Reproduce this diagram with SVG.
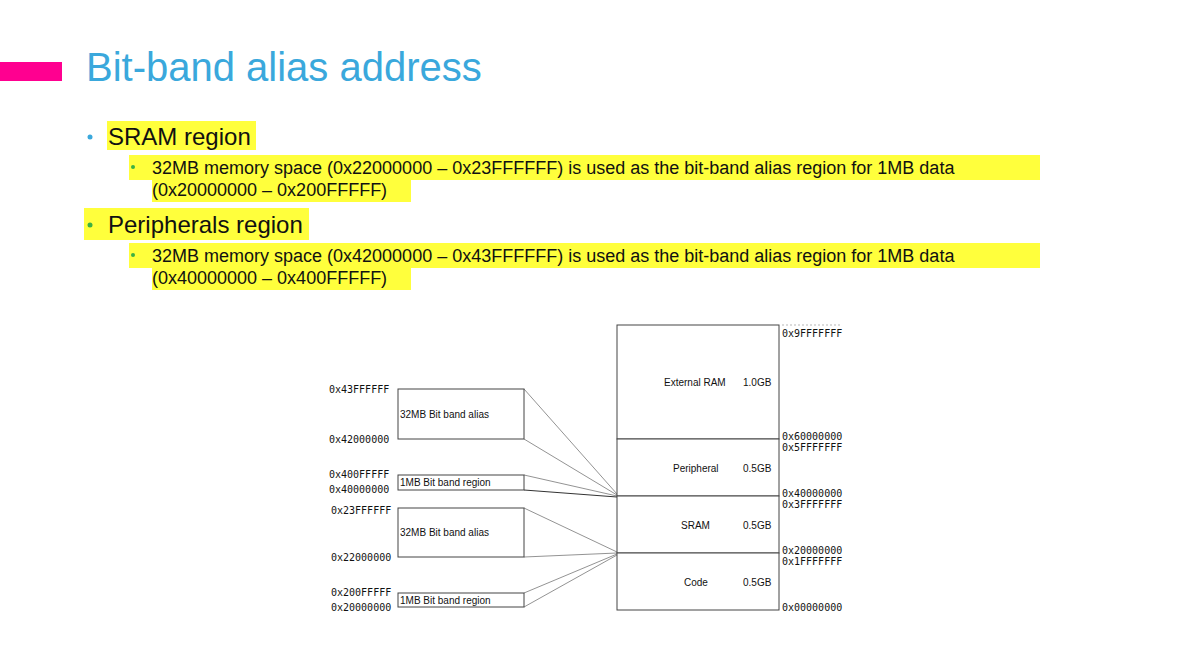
<svg xmlns="http://www.w3.org/2000/svg" width="1179" height="663" viewBox="0 0 1179 663">
<style>
.h{font-family:"Liberation Sans",Arial,sans-serif;font-size:24px;fill:#111}
.s{font-family:"Liberation Sans",Arial,sans-serif;font-size:18px;fill:#111}
.hl{fill:#ffff3c}
.d{font-family:"Liberation Sans",Arial,sans-serif;font-size:10px;fill:#111}
.m{font-family:"DejaVu Sans Mono",monospace;font-size:10px;fill:#111}
.b{fill:#fff;stroke:#444;stroke-width:1}
.c line{stroke:#777;stroke-width:0.8}
</style>
<rect width="1179" height="663" fill="#fff"/>
<rect x="0" y="62" width="62" height="19" fill="#ff0090"/>
<text x="86" y="81" font-family="Liberation Sans,Arial,sans-serif" font-size="40" fill="#3aa8dc">Bit-band alias address</text>
<rect class="hl" x="107" y="121" width="149" height="29"/>
<rect class="hl" x="129" y="155" width="911" height="25"/>
<rect class="hl" x="152" y="180" width="259" height="22"/>
<rect class="hl" x="84" y="208" width="225" height="32"/>
<rect class="hl" x="129" y="243" width="911" height="25"/>
<rect class="hl" x="152" y="268" width="259" height="22"/>
<circle cx="90" cy="137" r="2.5" fill="#3aa8dc"/>
<text class="h" x="108" y="145">SRAM region</text>
<circle cx="133" cy="167" r="2" fill="#3cb043"/>
<text class="s" x="152" y="174">32MB memory space (0x22000000 – 0x23FFFFFF) is used as the bit-band alias region for 1MB data</text>
<text class="s" x="152" y="196">(0x20000000 – 0x200FFFFF)</text>
<circle cx="90" cy="225" r="2.5" fill="#3cb043"/>
<text class="h" x="108" y="233">Peripherals region</text>
<circle cx="133" cy="255" r="2" fill="#3cb043"/>
<text class="s" x="152" y="262">32MB memory space (0x42000000 – 0x43FFFFFF) is used as the bit-band alias region for 1MB data</text>
<text class="s" x="152" y="284">(0x40000000 – 0x400FFFFF)</text>

<g id="connectors" class="c">
<line x1="524" y1="389" x2="617" y2="494"/>
<line x1="524" y1="439" x2="617" y2="495"/>
<line x1="524" y1="475" x2="617" y2="496"/>
<line x1="524" y1="490" x2="617" y2="497" style="stroke:#333;stroke-width:1"/>
<line x1="524" y1="508" x2="617" y2="552"/>
<line x1="524" y1="557" x2="617" y2="553"/>
<line x1="524" y1="593" x2="617" y2="554"/>
<line x1="524" y1="607" x2="617" y2="555"/>
</g>
<g id="ext"><rect class="b" x="617" y="325" width="162" height="114"/><text class="d" x="664" y="386">External RAM</text><text class="d" x="743" y="386">1.0GB</text></g>
<g id="periph"><rect class="b" x="617" y="439" width="162" height="57"/><text class="d" x="673" y="472">Peripheral</text><text class="d" x="743" y="472">0.5GB</text></g>
<g id="sram"><rect class="b" x="617" y="496" width="162" height="57"/><text class="d" x="681" y="529">SRAM</text><text class="d" x="743" y="529">0.5GB</text></g>
<g id="code"><rect class="b" x="617" y="553" width="162" height="57"/><text class="d" x="684" y="586">Code</text><text class="d" x="743" y="586">0.5GB</text></g>
<line x1="782" y1="325" x2="842" y2="325" stroke="#888" stroke-width="0.6" stroke-dasharray="2,2"/>
<g id="rlabels">
<text class="m" x="782" y="337">0x9FFFFFFF</text>
<text class="m" x="782" y="440">0x60000000</text>
<text class="m" x="782" y="451">0x5FFFFFFF</text>
<text class="m" x="782" y="497">0x40000000</text>
<text class="m" x="782" y="508">0x3FFFFFFF</text>
<text class="m" x="782" y="554">0x20000000</text>
<text class="m" x="782" y="565">0x1FFFFFFF</text>
<text class="m" x="782" y="611">0x00000000</text>
</g>
<g id="alias1"><rect class="b" x="398" y="389" width="126" height="50"/><text class="d" x="400" y="418">32MB  Bit band alias</text></g>
<g id="region1"><rect class="b" x="398" y="475" width="126" height="15"/><text class="d" x="400" y="486">1MB    Bit band region</text></g>
<g id="alias2"><rect class="b" x="398" y="508" width="126" height="49"/><text class="d" x="400" y="536">32MB  Bit band alias</text></g>
<g id="region2"><rect class="b" x="398" y="593" width="126" height="14"/><text class="d" x="400" y="604">1MB    Bit band region</text></g>
<g id="llabels">
<text class="m" x="329" y="393">0x43FFFFFF</text>
<text class="m" x="329" y="443">0x42000000</text>
<text class="m" x="329" y="478">0x400FFFFF</text>
<text class="m" x="329" y="493">0x40000000</text>
<text class="m" x="331" y="514">0x23FFFFFF</text>
<text class="m" x="331" y="561">0x22000000</text>
<text class="m" x="331" y="596">0x200FFFFF</text>
<text class="m" x="331" y="611">0x20000000</text>
</g>
</svg>
